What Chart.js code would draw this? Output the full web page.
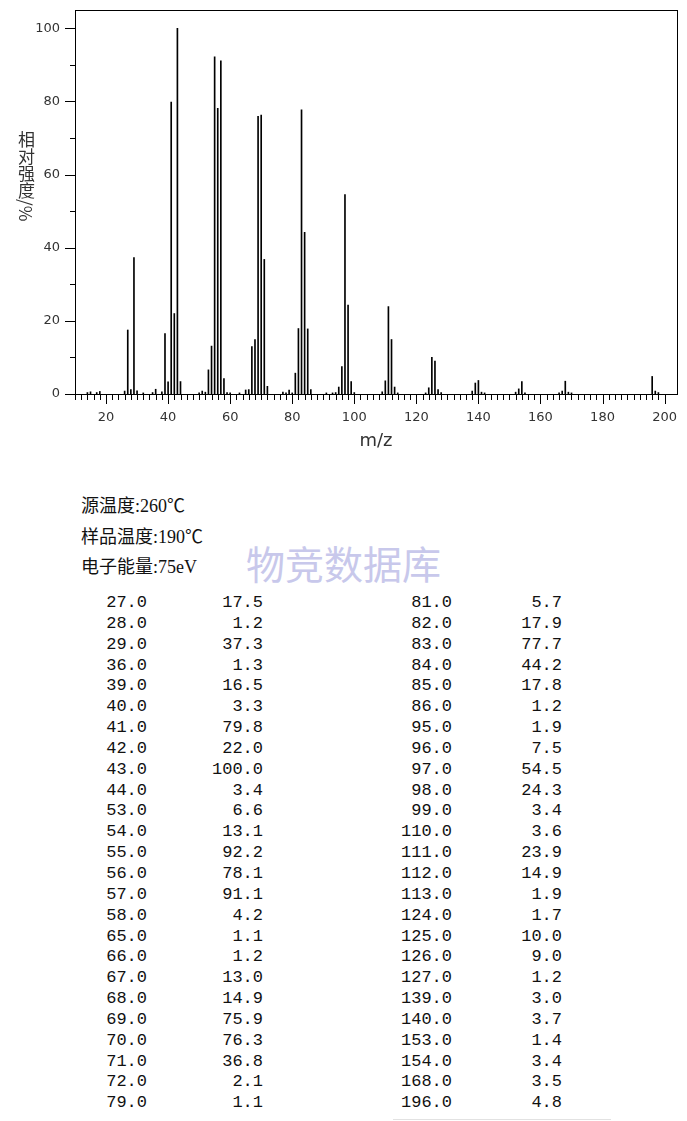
<!DOCTYPE html>
<html>
<head>
<meta charset="utf-8">
<script src="https://cdn.jsdelivr.net/npm/chart.js@4.4.0/dist/chart.umd.min.js"></script>
<style>
  body { margin: 0; background: #fff; }
  #page { position: relative; width: 687px; height: 1121px; overflow: hidden; }
  #chart-box { position: absolute; left: 0; top: 0; width: 687px; height: 460px; }
  #ytitle {
    position: absolute; left: 16px; top: 131px;
    writing-mode: vertical-rl; font: 17px "Noto Sans CJK SC", sans-serif;
    color: #333; line-height: 20px;
  }
  .info {
    position: absolute; left: 81px; font: 18px "Liberation Serif", "Noto Sans CJK SC", serif;
    color: #111; line-height: 24px; white-space: nowrap;
  }
  #mark {
    position: absolute; left: 246px; top: 538px; font: 39px "Noto Sans CJK SC", sans-serif;
    color: rgb(200, 200, 235); line-height: 48px; white-space: nowrap;
  }
  .col {
    position: absolute; top: 593px; font: 17px "Liberation Mono", monospace;
    color: #111; line-height: 20.85px; text-align: right; white-space: pre;
  }
  #rule { position: absolute; left: 393px; top: 1119px; width: 218px; height: 1px; background: #e2e2e2; }
</style>
</head>
<body>
<div id="page">
  <div id="chart-box"><canvas id="ms"></canvas></div>
  <div id="ytitle">相对强度/%</div>
  <div class="info" style="top:494px">源温度:260℃</div>
  <div class="info" style="top:525px">样品温度:190℃</div>
  <div class="info" style="top:555px">电子能量:75eV</div>
  <div id="mark">物竞数据库</div>
  <div class="col" id="c1" style="left:0;width:147px"></div>
  <div class="col" id="c2" style="left:0;width:263px"></div>
  <div class="col" id="c3" style="left:0;width:452px"></div>
  <div class="col" id="c4" style="left:0;width:562px"></div>
  <div id="rule"></div>
</div>
<script>
// peaks listed in the table
const tableMass = [27, 28, 29, 36, 39, 40, 41, 42, 43, 44, 53, 54, 55, 56, 57, 58, 65, 66, 67, 68, 69, 70, 71, 72, 79,
    81, 82, 83, 84, 85, 86, 95, 96, 97, 98, 99, 110, 111, 112, 113, 124, 125, 126, 127, 139, 140, 153, 154, 168, 196];
const tableIntensity = [17.5, 1.2, 37.3, 1.3, 16.5, 3.3, 79.8, 22.0, 100.0, 3.4, 6.6, 13.1, 92.2, 78.1, 91.1, 4.2, 1.1, 1.2, 13.0, 14.9, 75.9, 76.3, 36.8, 2.1, 1.1,
    5.7, 17.9, 77.7, 44.2, 17.8, 1.2, 1.9, 7.5, 54.5, 24.3, 3.4, 3.6, 23.9, 14.9, 1.9, 1.7, 10.0, 9.0, 1.2, 3.0, 3.7, 1.4, 3.4, 3.5, 4.8];

// small peaks only seen in the plot
const minorMass = [14, 15, 17, 18, 26, 30, 32, 35, 38, 50, 51, 52, 59, 60, 63, 77, 78, 80, 91, 93, 94, 100,
    109, 114, 123, 128, 138, 141, 142, 152, 155, 166, 167, 169, 170, 197, 198];
const minorIntensity = [0.4, 0.6, 0.4, 0.7, 0.8, 0.9, 0.3, 0.4, 0.6, 0.3, 0.8, 0.5, 0.4, 0.3, 0.3, 0.5, 0.3, 0.3, 0.3, 0.3, 0.4, 0.4,
    0.6, 0.3, 0.3, 0.4, 0.8, 0.5, 0.3, 0.5, 0.3, 0.3, 0.8, 0.5, 0.3, 0.8, 0.4];

const xMin = 10, xMax = 204, yMax = 105;
const xTickLabels = [20, 40, 60, 80, 100, 120, 140, 160, 180, 200];
const yTickLabels = [0, 20, 40, 60, 80, 100];

const peaks = tableMass.map((m, i) => ({ x: m, y: tableIntensity[i] }))
    .concat(minorMass.map((m, i) => ({ x: m, y: minorIntensity[i] })));

// tick marks: long on labelled values, short in between
const tickMarks = {
    id: "tickMarks",
    afterDraw: (chart) => {
        const ctx = chart.ctx;
        const area = chart.chartArea;
        const xs = chart.scales.x;
        const ys = chart.scales.y;

        ctx.save();
        ctx.strokeStyle = "#000";
        ctx.lineWidth = 1;
        ctx.beginPath();
        for (let v = 10; v <= 200; v += 2) {
            const px = Math.round(xs.getPixelForValue(v)) + 0.5;
            const len = xTickLabels.includes(v) ? 10 : 6;
            ctx.moveTo(px, area.bottom);
            ctx.lineTo(px, area.bottom + len);
        }
        for (let v = 0; v <= 100; v += 10) {
            const py = Math.round(ys.getPixelForValue(v)) + 0.5;
            const len = yTickLabels.includes(v) ? 10 : 5;
            ctx.moveTo(area.left, py);
            ctx.lineTo(area.left - len, py);
        }
        ctx.stroke();
        ctx.strokeRect(Math.round(area.left) + 0.5, Math.round(area.top) + 0.5,
            Math.round(area.right - area.left), Math.round(area.bottom - area.top));
        ctx.restore();
    },
};

new Chart(document.getElementById("ms").getContext("2d"), {
    type: "bar",
    data: {
        datasets: [
            {
                label: "m/z",
                data: peaks,
                backgroundColor: "#000",
                borderWidth: 0,
                barThickness: 1,
                grouped: false,
            },
        ],
    },
    options: {
        responsive: true,
        maintainAspectRatio: false,
        animation: false,
        layout: { padding: { top: 10, right: 10, left: 0, bottom: 0 } },
        plugins: {
            legend: { display: false },
            tooltip: { enabled: false },
        },
        scales: {
            x: {
                type: "linear",
                offset: false,
                min: xMin,
                max: xMax,
                grid: { display: false, drawTicks: false },
                border: { display: true, color: "#000" },
                ticks: {
                    stepSize: 2,
                    autoSkip: false,
                    maxRotation: 0,
                    padding: 16,
                    color: "#333",
                    font: { family: "DejaVu Sans", size: 13 },
                    callback: (v) => (xTickLabels.includes(v) ? v : ""),
                },
                title: {
                    display: true,
                    text: "m/z",
                    color: "#333",
                    font: { family: "DejaVu Sans", size: 18 },
                    padding: { top: 0, bottom: 8 },
                },
                afterFit: (scale) => {
                    scale.height = 66;
                    scale.paddingLeft = 0;
                    scale.paddingRight = 0;
                },
            },
            y: {
                min: 0,
                max: yMax,
                grid: { display: false, drawTicks: false },
                border: { display: true, color: "#000" },
                ticks: {
                    stepSize: 10,
                    autoSkip: false,
                    padding: 15,
                    color: "#333",
                    font: { family: "DejaVu Sans", size: 13 },
                    callback: (v) => (yTickLabels.includes(v) ? v : ""),
                },
                afterFit: (scale) => {
                    scale.width = 75;
                    scale.paddingTop = 0;
                    scale.paddingBottom = 0;
                },
            },
        },
    },
    plugins: [tickMarks],
});

// peak table, two halves side by side
const half = Math.ceil(tableMass.length / 2);
const fmt = (v) => v.toFixed(1);
document.getElementById("c1").textContent = tableMass.slice(0, half).map(fmt).join("\n");
document.getElementById("c2").textContent = tableIntensity.slice(0, half).map(fmt).join("\n");
document.getElementById("c3").textContent = tableMass.slice(half).map(fmt).join("\n");
document.getElementById("c4").textContent = tableIntensity.slice(half).map(fmt).join("\n");
</script>
</body>
</html>
